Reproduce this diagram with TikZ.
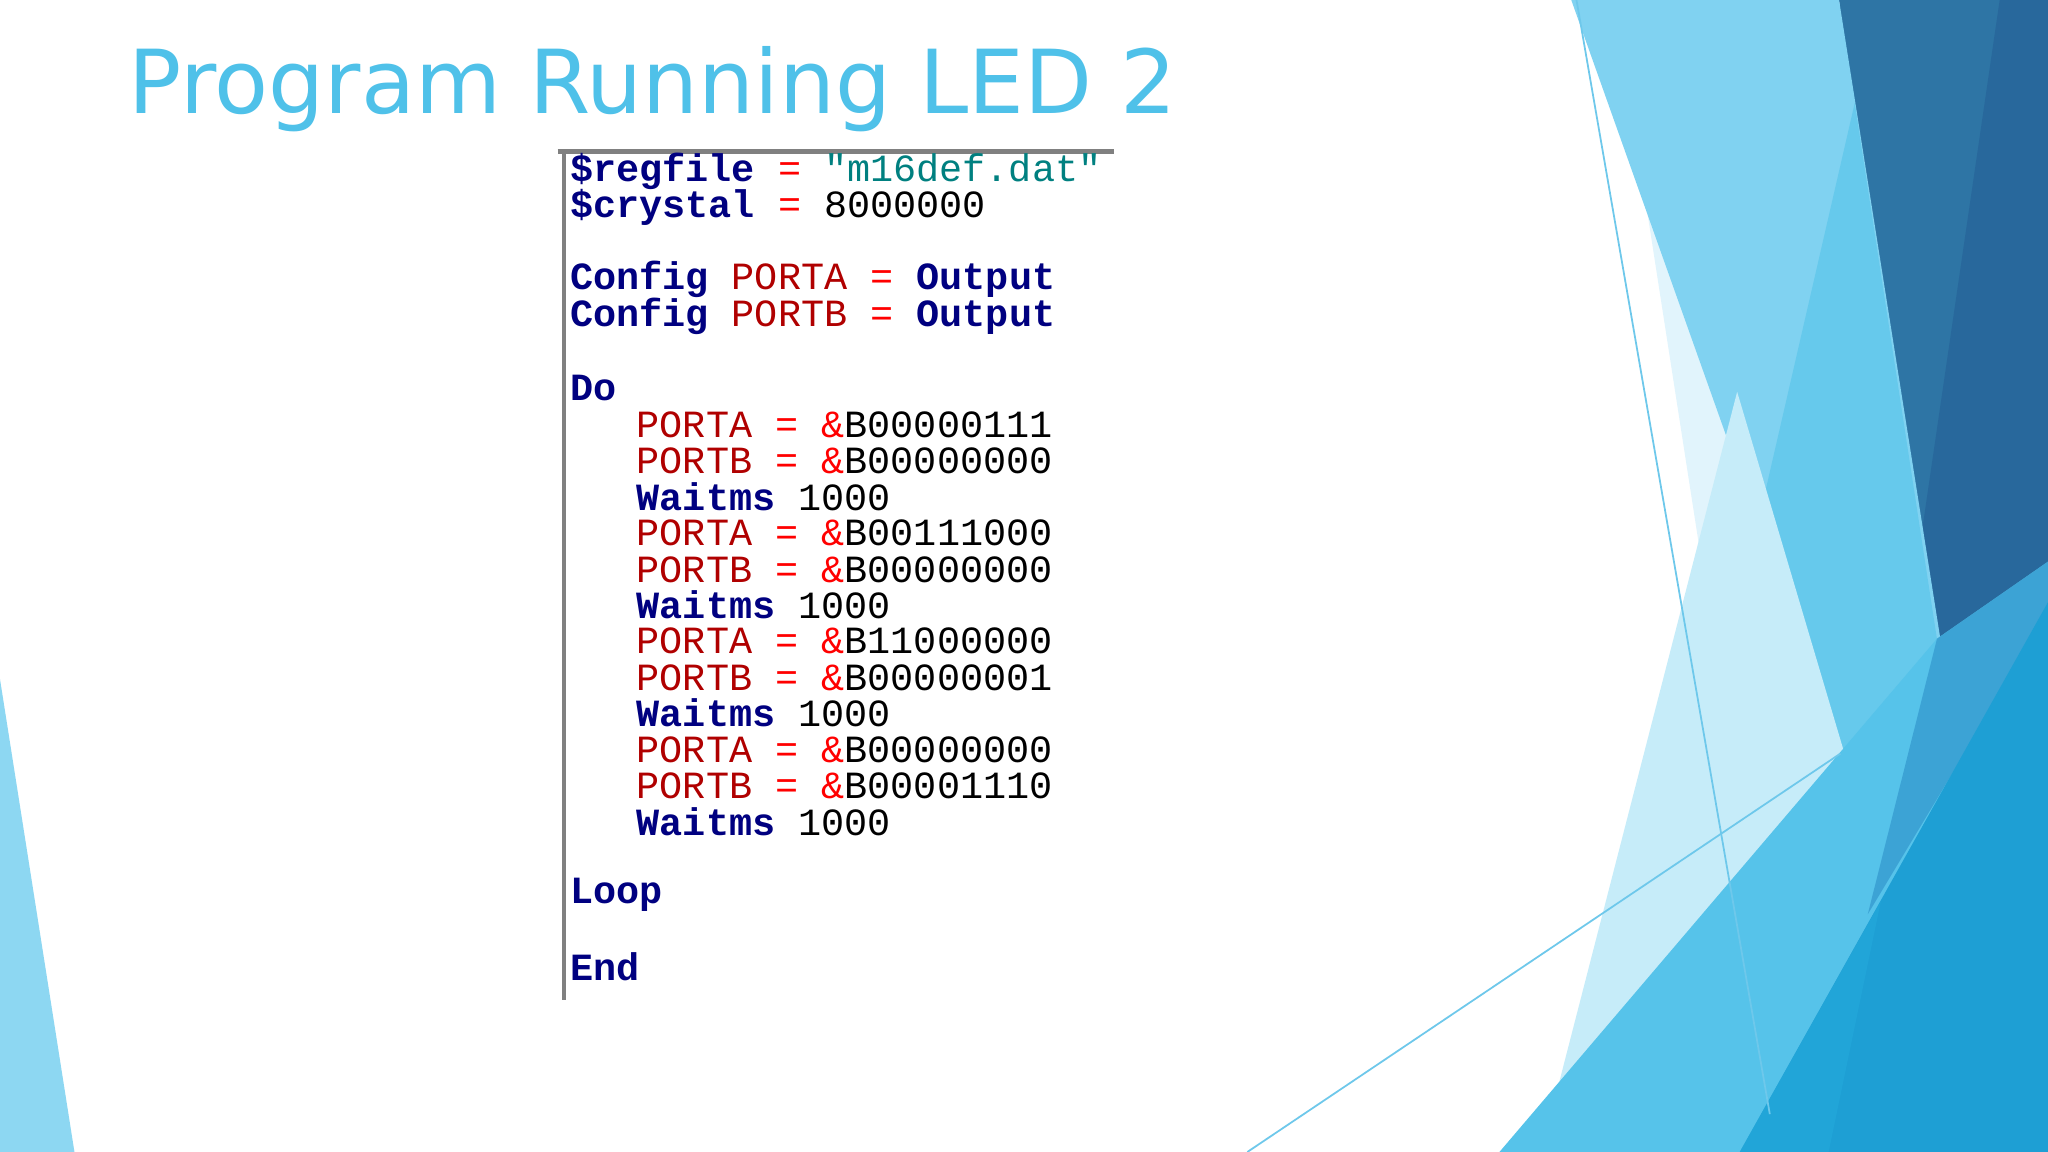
\documentclass[tikz,border=0pt]{standalone}
\usepackage{fontspec}
\setmainfont{DejaVu Sans}
\setmonofont{Liberation Mono}
\definecolor{kwc}{HTML}{000080}
\definecolor{ptc}{HTML}{B00000}
\definecolor{opc}{HTML}{FF0000}
\definecolor{stc}{HTML}{008080}
\definecolor{ttl}{HTML}{4FC1E9}
\newcommand{\kw}[1]{\textcolor{kwc}{\bfseries #1}}
\newcommand{\pt}[1]{\textcolor{ptc}{#1}}
\newcommand{\op}[1]{\textcolor{opc}{#1}}
\begin{document}
\begin{tikzpicture}[x=0.013cm,y=-0.013cm,
  codeline/.style={anchor=west,inner sep=0pt,font=\ttfamily\fontsize{10.9pt}{11pt}\selectfont}]
\useasboundingbox (0,0) rectangle (1568,882);
\fill[white] (0,0) rectangle (1568,882);
% left sliver
\fill[fill={rgb,255:red,141;green,215;blue,242}] (0,520) -- (57,882) -- (0,882) -- cycle;
% right decoration
\fill[fill={rgb,255:red,46;green,117;blue,165}] (1408,0) -- (1568,0) -- (1568,882) -- (1500,882) -- cycle;
\fill[fill={rgb,255:red,40;green,104;blue,156}] (1531,0) -- (1568,0) -- (1568,882) -- (1402,882) -- cycle;
\fill[fill={rgb,255:red,225;green,244;blue,252}] (1236,0) -- (1300,0) -- (1420,560) -- (1367,844) -- cycle;
\fill[fill={rgb,255:red,128;green,210;blue,241}] (1203,0) -- (1408,0) -- (1500,580) -- (1460,882) -- (1433,647) -- cycle;
\fill[fill={rgb,255:red,102;green,201;blue,236}] (1420,79) -- (1480,470) -- (1500,600) -- (1440,882) -- (1290,882) -- (1330,470) -- cycle;
\fill[fill={rgb,255:red,198;green,236;blue,249}] (1330,300) -- (1180,882) -- (1290,882) -- (1433,647) -- cycle;
\fill[fill={rgb,255:red,86;green,195;blue,234}] (1148,882) -- (1483,489) -- (1568,430) -- (1568,882) -- cycle;
\fill[fill={rgb,255:red,50;green,150;blue,205},opacity=0.7] (1483,489) -- (1568,430) -- (1568,470) -- (1430,700) -- cycle;
\fill[fill={rgb,255:red,30;green,159;blue,212}] (1332,882) -- (1568,461) -- (1568,882) -- cycle;
\fill[fill={rgb,255:red,36;green,170;blue,220},opacity=0.6] (1332,882) -- (1440,690) -- (1400,882) -- cycle;
\coordinate (t1) at (1207,0); \coordinate (t2) at (1355,853);
\coordinate (t3) at (955,882); \coordinate (t4) at (1409,577);
\draw[color={rgb,255:red,110;green,200;blue,235},line width=0.5pt] (t1) -- (t2);
\draw[color={rgb,255:red,110;green,200;blue,235},line width=0.5pt] (t3) -- (t4);
% title
\node[anchor=west,inner sep=0pt,text=ttl,font=\fontsize{25pt}{30pt}\selectfont] (title) at (98,68) {Program Running LED 2};
% code frame
\coordinate (f1) at (427,116); \coordinate (f2) at (853,116);
\coordinate (f3) at (432,117); \coordinate (f4) at (432,766);
\draw[gray,line width=1.2pt] (f1) -- (f2);
\draw[gray,line width=1.2pt] (f3) -- (f4);
\def\lx{436} \def\ix{487}
\node[codeline] (l0) at (\lx,131) {\kw{\$regfile} \op{=} \textcolor{stc}{"m16def.dat"}};
\node[codeline] (l1) at (\lx,159) {\kw{\$crystal} \op{=} 8000000};
\node[codeline] (l3) at (\lx,214) {\kw{Config} \pt{PORTA} \op{=} \kw{Output}};
\node[codeline] (l4) at (\lx,242) {\kw{Config} \pt{PORTB} \op{=} \kw{Output}};
\node[codeline] (l6) at (\lx,297) {\kw{Do}};
\node[codeline] (l7) at (\ix,325) {\pt{PORTA} \op{=} \op{\&}B00000111};
\node[codeline] (l8) at (\ix,353) {\pt{PORTB} \op{=} \op{\&}B00000000};
\node[codeline] (l9) at (\ix,380) {\kw{Waitms} 1000};
\node[codeline] (l10) at (\ix,408) {\pt{PORTA} \op{=} \op{\&}B00111000};
\node[codeline] (l11) at (\ix,436) {\pt{PORTB} \op{=} \op{\&}B00000000};
\node[codeline] (l12) at (\ix,463) {\kw{Waitms} 1000};
\node[codeline] (l13) at (\ix,491) {\pt{PORTA} \op{=} \op{\&}B11000000};
\node[codeline] (l14) at (\ix,519) {\pt{PORTB} \op{=} \op{\&}B00000001};
\node[codeline] (l15) at (\ix,546) {\kw{Waitms} 1000};
\node[codeline] (l16) at (\ix,574) {\pt{PORTA} \op{=} \op{\&}B00000000};
\node[codeline] (l17) at (\ix,602) {\pt{PORTB} \op{=} \op{\&}B00001110};
\node[codeline] (l18) at (\ix,629) {\kw{Waitms} 1000};
\node[codeline] (l20) at (\lx,685) {\kw{Loop}};
\node[codeline] (l22) at (\lx,740) {\kw{End}};
\end{tikzpicture}
\end{document}
